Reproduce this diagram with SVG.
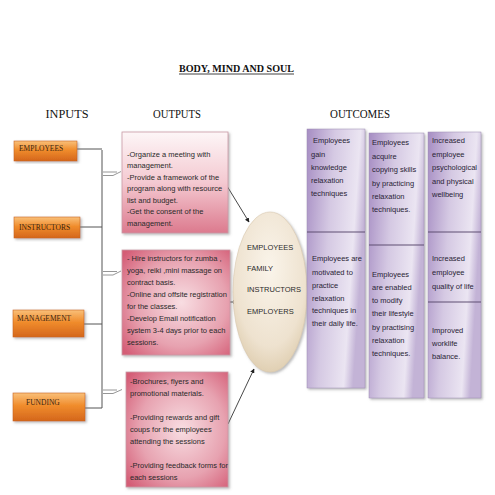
<svg xmlns="http://www.w3.org/2000/svg" width="495" height="495" viewBox="0 0 495 495">
<defs>
<linearGradient id="gOrange" x1="0" y1="0" x2="0" y2="1">
<stop offset="0" stop-color="#f9c07a"/><stop offset="0.45" stop-color="#f08c2c"/><stop offset="1" stop-color="#d4661c"/>
</linearGradient>
<linearGradient id="gPink1" x1="0" y1="0" x2="0" y2="1">
<stop offset="0" stop-color="#fdf6f7"/><stop offset="0.5" stop-color="#f4c9d1"/><stop offset="1" stop-color="#dc7a8e"/>
</linearGradient>
<radialGradient id="gPink" cx="0.55" cy="0.5" r="0.7">
<stop offset="0" stop-color="#f8dde2"/><stop offset="0.6" stop-color="#e7a2b0"/><stop offset="1" stop-color="#d45d76"/>
</radialGradient>
<radialGradient id="gEgg" cx="0.5" cy="0.35" r="0.7">
<stop offset="0" stop-color="#faf4ea"/><stop offset="0.7" stop-color="#eee2cf"/><stop offset="1" stop-color="#dccaaa"/>
</radialGradient>
<linearGradient id="gPurple" x1="0" y1="0" x2="1" y2="0.3">
<stop offset="0" stop-color="#a68dc3"/><stop offset="0.45" stop-color="#d5c9e3"/><stop offset="0.85" stop-color="#ebe5f2"/><stop offset="1" stop-color="#c3b3d6"/>
</linearGradient>
<filter id="sh" x="-10%" y="-10%" width="125%" height="125%">
<feDropShadow dx="1.5" dy="1.5" stdDeviation="1" flood-color="#777" flood-opacity="0.5"/>
</filter>
<marker id="ah" viewBox="0 0 10 10" refX="9" refY="5" markerWidth="5" markerHeight="5" orient="auto">
<path d="M0,0 L10,5 L0,10 z" fill="#222"/>
</marker>
<style>
.hd{font-family:"Liberation Serif",serif;font-size:13px;fill:#111}
.in{font-family:"Liberation Serif",serif;font-size:7.5px;fill:#3a2510}
.tx{font-family:"Liberation Sans",Arial,sans-serif;font-size:7.5px;fill:#2a2a2a}
.oc{font-family:"Liberation Sans",Arial,sans-serif;font-size:7.5px;fill:#2a2436}
.inbox{fill:url(#gOrange);stroke:#c8641e;stroke-width:0.6;filter:url(#sh)}
.outbox{stroke:#c99aa5;stroke-width:0.8;filter:url(#sh)}
.col{fill:url(#gPurple);stroke:#9d8cb2;stroke-width:0.5;filter:url(#sh)}
.div{stroke:#5e4f72;stroke-width:1.2}
.ln{stroke:#555;stroke-width:1;fill:none}
.dbl{stroke:#8a8a8a;stroke-width:0.9;fill:none}
.arr{stroke:#333;stroke-width:0.9;fill:none;marker-end:url(#ah)}
</style>
</defs>
<rect width="495" height="495" fill="#ffffff"/>

<g id="title">
<text x="236.5" y="72" text-anchor="middle" font-family="Liberation Serif,serif" font-weight="bold" font-size="10" textLength="115" lengthAdjust="spacingAndGlyphs" fill="#111">BODY, MIND AND SOUL</text>
<line x1="179" y1="74" x2="294" y2="74" stroke="#111" stroke-width="0.8"/>
</g>

<g id="headers">
<text class="hd" x="67" y="118" text-anchor="middle" textLength="43" lengthAdjust="spacingAndGlyphs">INPUTS</text>
<text class="hd" x="177" y="118" text-anchor="middle" textLength="48" lengthAdjust="spacingAndGlyphs">OUTPUTS</text>
<text class="hd" x="360" y="118" text-anchor="middle" textLength="60" lengthAdjust="spacingAndGlyphs">OUTCOMES</text>
</g>

<g id="connectors">
<polyline class="ln" points="77,149 102,149"/>
<polyline class="ln" points="80,227 102,227"/>
<polyline class="ln" points="84,324 102,324"/>
<polyline class="ln" points="68,408 102,408 102,150"/>
<path class="dbl" d="M103,172 H117 M103,175.5 H113 L121,171.5"/>
<path class="dbl" d="M103,271.5 H117 M103,275 H113 L121,271"/>
<path class="dbl" d="M103,390 H117 M103,393.5 H113 L122,389.5"/>
<line class="arr" x1="227" y1="186" x2="249" y2="222"/>
<line class="arr" x1="230" y1="302" x2="237" y2="302"/>
<line class="arr" x1="228" y1="424" x2="254" y2="369"/>
</g>

<g id="in-employees"><rect class="inbox" x="14" y="141" width="63" height="20"/><text class="in" x="19" y="151">EMPLOYEES</text></g>
<g id="in-instructors"><rect class="inbox" x="14" y="217" width="66" height="21"/><text class="in" x="19" y="230">INSTRUCTORS</text></g>
<g id="in-management"><rect class="inbox" x="13" y="310" width="71" height="27"/><text class="in" x="17" y="321">MANAGEMENT</text></g>
<g id="in-funding"><rect class="inbox" x="13" y="393" width="72" height="28"/><text class="in" x="26" y="405">FUNDING</text></g>

<g id="out-1">
<rect class="outbox" x="122" y="132" width="106" height="101" fill="url(#gPink1)"/>
<text class="tx" x="127" y="156.5">-Organize a meeting with</text>
<text class="tx" x="127" y="168">management.</text>
<text class="tx" x="127" y="179.5">-Provide a framework  of the</text>
<text class="tx" x="127" y="191">program  along with resource</text>
<text class="tx" x="127" y="202.5">list and budget.</text>
<text class="tx" x="127" y="214">-Get the consent of the</text>
<text class="tx" x="127" y="225.5">management.</text>
</g>

<g id="out-2">
<rect class="outbox" x="122" y="250" width="108" height="105" fill="url(#gPink)"/>
<text class="tx" x="127" y="260.5">- Hire instructors  for zumba ,</text>
<text class="tx" x="127" y="272.5">yoga, reiki ,mini massage on</text>
<text class="tx" x="127" y="284.5">contract basis.</text>
<text class="tx" x="127" y="296.5">-Online and offsite registration</text>
<text class="tx" x="127" y="308.5">for the classes.</text>
<text class="tx" x="127" y="320.5">-Develop Email notification</text>
<text class="tx" x="127" y="332.5">system 3-4 days prior  to each</text>
<text class="tx" x="127" y="344.5">sessions.</text>
</g>

<g id="out-3">
<rect class="outbox" x="126" y="372" width="102" height="115" fill="url(#gPink)"/>
<text class="tx" x="130" y="384">-Brochures, flyers and</text>
<text class="tx" x="130" y="396">promotional  materials.</text>
<text class="tx" x="130" y="419.5">-Providing  rewards and gift</text>
<text class="tx" x="130" y="432">coups for the employees</text>
<text class="tx" x="130" y="444">attending the sessions</text>
<text class="tx" x="130" y="467.5">-Providing  feedback forms for</text>
<text class="tx" x="130" y="479.5">each sessions</text>
</g>

<g id="beneficiaries">
<ellipse cx="270" cy="292" rx="37" ry="80" fill="url(#gEgg)" stroke="#d8c8ae" stroke-width="0.6" filter="url(#sh)"/>
<text class="tx" x="247" y="250">EMPLOYEES</text>
<text class="tx" x="247" y="271">FAMILY</text>
<text class="tx" x="247" y="292">INSTRUCTORS</text>
<text class="tx" x="247" y="314">EMPLOYERS</text>
</g>

<g id="outcome-col1">
<rect class="col" x="307" y="129" width="58" height="259"/>
<line class="div" x1="307" y1="232" x2="365" y2="232"/>
<text class="oc" x="313" y="143">Employees</text>
<text class="oc" x="311" y="156.5">gain</text>
<text class="oc" x="311" y="170">knowledge</text>
<text class="oc" x="311" y="183">relaxation</text>
<text class="oc" x="311" y="196">techniques</text>
<text class="oc" x="312" y="261">Employees are</text>
<text class="oc" x="312" y="274.5">motivated to</text>
<text class="oc" x="312" y="287.5">practice</text>
<text class="oc" x="312" y="300.5">relaxation</text>
<text class="oc" x="312" y="313">techniques in</text>
<text class="oc" x="312" y="326">their daily life.</text>
</g>

<g id="outcome-col2">
<rect class="col" x="369" y="133" width="55" height="265"/>
<line class="div" x1="369" y1="245" x2="424" y2="245"/>
<text class="oc" x="372" y="145">Employees</text>
<text class="oc" x="372" y="158.5">acquire</text>
<text class="oc" x="372" y="172">copying skills</text>
<text class="oc" x="372" y="185.5">by practicing</text>
<text class="oc" x="372" y="199">relaxation</text>
<text class="oc" x="372" y="212">techniques.</text>
<text class="oc" x="372" y="277">Employees</text>
<text class="oc" x="372" y="290">are enabled</text>
<text class="oc" x="372" y="303">to modify</text>
<text class="oc" x="372" y="316">their lifestyle</text>
<text class="oc" x="372" y="329.5">by practising</text>
<text class="oc" x="372" y="342.5">relaxation</text>
<text class="oc" x="372" y="355.5">techniques.</text>
</g>

<g id="outcome-col3">
<rect class="col" x="428" y="132" width="53" height="266"/>
<line class="div" x1="428" y1="232" x2="481" y2="232"/>
<line class="div" x1="428" y1="302" x2="481" y2="302"/>
<text class="oc" x="432" y="143">Increased</text>
<text class="oc" x="432" y="157">employee</text>
<text class="oc" x="432" y="170">psychological</text>
<text class="oc" x="432" y="184">and physical</text>
<text class="oc" x="432" y="197">wellbeing</text>
<text class="oc" x="432" y="261">Increased</text>
<text class="oc" x="432" y="275">employee</text>
<text class="oc" x="432" y="289">quality of life</text>
<text class="oc" x="432" y="333">Improved</text>
<text class="oc" x="432" y="346">worklife</text>
<text class="oc" x="432" y="359">balance.</text>
</g>
</svg>
